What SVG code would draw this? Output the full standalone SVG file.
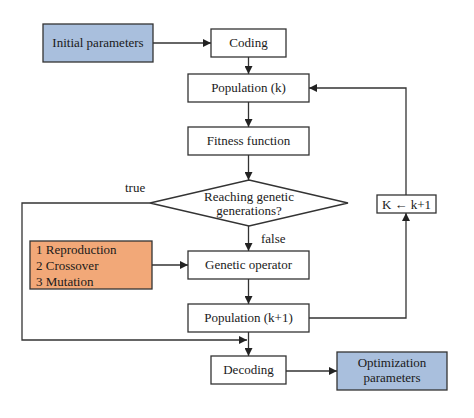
<svg xmlns="http://www.w3.org/2000/svg" width="474" height="418" viewBox="0 0 474 418">
<defs>
<marker id="arr" viewBox="0 0 10 10" refX="10" refY="5" markerWidth="8" markerHeight="8" markerUnits="userSpaceOnUse" orient="auto">
<path d="M0,0 L10,5 L0,10 z" fill="#222"/>
</marker>
<style>
.box{fill:#fff;stroke:#333;stroke-width:1.3}
.blue{fill:#a9bfdd;stroke:#333;stroke-width:1.3}
.orange{fill:#f2a878;stroke:#333;stroke-width:1.3}
text{font-family:'Liberation Serif','Times New Roman',serif;font-size:13px;fill:#1a1a1a}
.t{text-anchor:middle}
.c{fill:none;stroke:#333;stroke-width:1.3}
</style>
</defs>
<rect width="474" height="418" fill="#fff"/>
<g id="connectors">
<path class="c" d="M153,43 H211" marker-end="url(#arr)"/>
<path class="c" d="M248.5,57 V74" marker-end="url(#arr)"/>
<path class="c" d="M248.5,102 V127" marker-end="url(#arr)"/>
<path class="c" d="M248.5,155 V180" marker-end="url(#arr)"/>
<path class="c" d="M248.5,226 V251" marker-end="url(#arr)"/>
<path class="c" d="M152,265 H188" marker-end="url(#arr)"/>
<path class="c" d="M248.5,279 V304" marker-end="url(#arr)"/>
<path class="c" d="M248.5,332 V356" marker-end="url(#arr)"/>
<path class="c" d="M150,203 H22 V340 H247" marker-end="url(#arr)"/>
<path class="c" d="M309,318 H406 V213" marker-end="url(#arr)"/>
<path class="c" d="M406,195 V88 H309" marker-end="url(#arr)"/>
<path class="c" d="M286,371 H337" marker-end="url(#arr)"/>
<text x="125" y="192">true</text>
<text x="261" y="243">false</text>
</g>
<g id="initial"><rect class="blue" x="43" y="24" width="110" height="38"/><text class="t" x="98" y="47">Initial parameters</text></g>
<g id="coding"><rect class="box" x="211" y="29" width="75" height="28"/><text class="t" x="248.5" y="47">Coding</text></g>
<g id="popk"><rect class="box" x="188" y="74" width="121" height="28"/><text class="t" x="248.5" y="92">Population (k)</text></g>
<g id="fitness"><rect class="box" x="188" y="127" width="121" height="28"/><text class="t" x="248.5" y="145">Fitness function</text></g>
<g id="decision"><polygon class="box" points="249,180 348,203 249,226 150,203"/><text class="t" x="249" y="201">Reaching genetic</text><text class="t" x="249" y="215">generations?</text></g>
<g id="kupdate"><rect class="box" x="377" y="195" width="59" height="18"/><text class="t" x="406.5" y="208.5">K ← k+1</text></g>
<g id="operators"><rect class="orange" x="30" y="241" width="122" height="48"/><text x="36" y="254">1 Reproduction</text><text x="36" y="270">2 Crossover</text><text x="36" y="286">3 Mutation</text></g>
<g id="genetic"><rect class="box" x="188" y="251" width="121" height="28"/><text class="t" x="248.5" y="269">Genetic operator</text></g>
<g id="popk1"><rect class="box" x="188" y="304" width="121" height="28"/><text class="t" x="248.5" y="322">Population (k+1)</text></g>
<g id="decoding"><rect class="box" x="211" y="356" width="75" height="28"/><text class="t" x="248.5" y="374">Decoding</text></g>
<g id="optim"><rect class="blue" x="337" y="352" width="110" height="38"/><text class="t" x="392" y="367">Optimization</text><text class="t" x="392" y="382">parameters</text></g>
</svg>
